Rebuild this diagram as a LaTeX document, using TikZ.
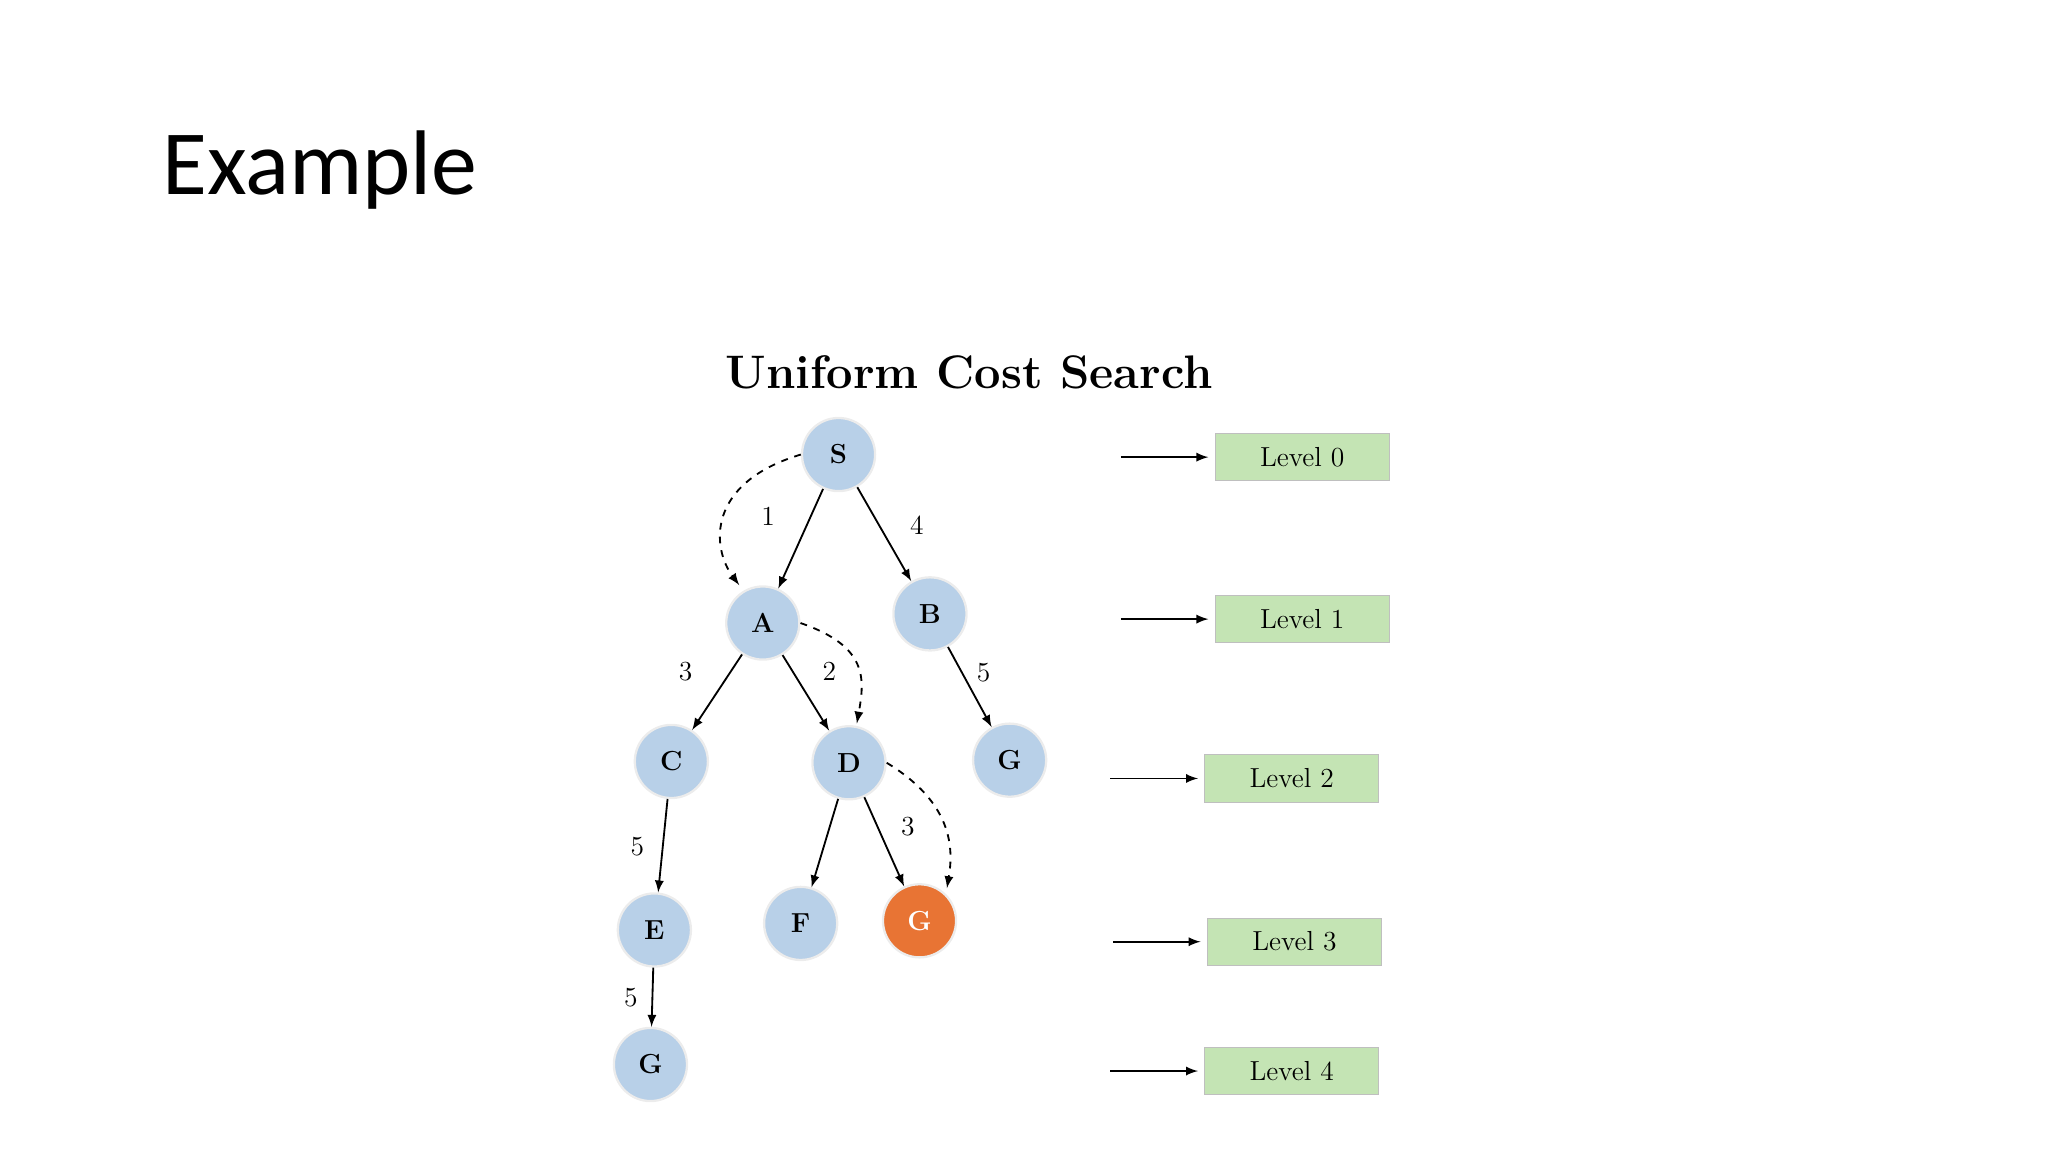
\documentclass[tikz,border=0pt]{standalone}
\usepackage{fontspec}
\newfontfamily\slidefont{Carlito}
\usetikzlibrary{positioning,arrows}
\definecolor{nodeblue}{RGB}{184,208,232}
\definecolor{nodeorange}{RGB}{232,116,52}
\definecolor{levelgreen}{RGB}{196,228,180}
\begin{document}
\begin{tikzpicture}[x=0.02cm,y=-0.02cm,
  state/.style={circle,fill=nodeblue,draw=white!85!gray,line width=1pt,minimum size=1.12cm,inner sep=0pt,font=\bfseries\large},
  goal/.style={state,fill=nodeorange,text=white},
  level/.style={rectangle,fill=levelgreen,draw=gray!50,minimum width=2.66cm,minimum height=0.72cm,font=\large},
  edge/.style={-latex,thick},
  route/.style={-latex,thick,dashed},
  cost/.style={font=\large}]
\useasboundingbox (0,0) rectangle (1568,882);
\node[font=\slidefont\fontsize{40}{46}\selectfont,anchor=west] at (118,130) {Example};
\node[font=\bfseries\fontsize{20.5}{24}\selectfont] at (742,285) {Uniform Cost Search};
% tree
\node[state] (S) at (642,348) {S};
\node[state] (A) at (584,477) {A};
\node[state] (B) at (712,470) {B};
\node[state] (C) at (514,583) {C};
\node[state] (D) at (650,584) {D};
\node[state] (G1) at (773,582) {G};
\node[state] (E) at (501,712) {E};
\node[state] (F) at (613,707) {F};
\node[goal] (G2) at (704,705) {G};
\node[state] (G3) at (498,815) {G};
\draw[edge] (S) -- (A);
\draw[edge] (S) -- (B);
\draw[edge] (A) -- (C);
\draw[edge] (A) -- (D);
\draw[edge] (B) -- (G1);
\draw[edge] (C) -- (E);
\draw[edge] (D) -- (F);
\draw[edge] (D) -- (G2);
\draw[edge] (E) -- (G3);
\node[cost] at (588,395) {1};
\node[cost] at (702,402) {4};
\node[cost] at (525,514) {3};
\node[cost] at (635,514) {2};
\node[cost] at (753,515) {5};
\node[cost] at (488,648) {5};
\node[cost] at (695,633) {3};
\node[cost] at (483,764) {5};
% path taken
\draw[route] (S.west) .. controls (540,370) and (545,420) .. (566,448);
\draw[route] (A.east) .. controls (665,495) and (662,520) .. (656,554);
\draw[route] (D.east) .. controls (730,615) and (730,650) .. (725,680);
% levels
\foreach \n/\x/\y in {0/997/350,1/997/474,2/989/596,3/991/721,4/989/820}{
  \node[level] (L\n) at (\x,\y) {Level \n};
  \coordinate (T\n) at ([xshift=-1.44cm]L\n.west);
  \draw[edge] (T\n) -- ([xshift=-0.1cm]L\n.west);
}
\end{tikzpicture}
\end{document}
